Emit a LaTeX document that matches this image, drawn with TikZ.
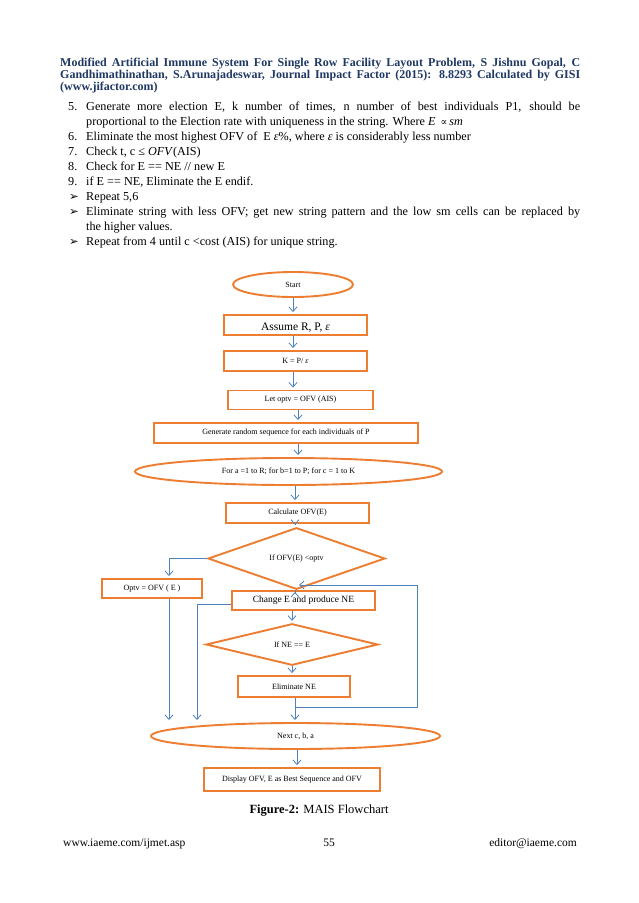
\documentclass[tikz,border=0pt]{standalone}
\usepackage{fontspec}
\setmainfont{Liberation Serif}
\newfontfamily\djs{DejaVu Sans}
\newfontfamily\djserif{DejaVu Serif}
\usetikzlibrary{shapes.geometric,arrows.meta}
\definecolor{boxor}{RGB}{237,125,49}
\definecolor{lnblue}{RGB}{79,129,189}
\definecolor{hdblue}{RGB}{31,56,100}
\newcommand{\fsz}[1]{\fontsize{#1}{#1}\selectfont}
\begin{document}
\begin{tikzpicture}[x=1pt,y=-1pt,
 proc/.style={draw=boxor, line width=1.9pt, rectangle, inner sep=0pt, font=\fsz{8}},
 term/.style={draw=boxor, line width=1.9pt, ellipse, inner sep=0pt, font=\fsz{8}},
 dec/.style={draw=boxor, line width=1.9pt, diamond, inner sep=0pt, font=\fsz{8}},
 conn/.style={draw=lnblue, line width=0.8pt, -{Straight Barb[length=4.5pt,width=8pt]}},
 into/.style={conn, shorten >=2pt},
 hd/.style={anchor=base west, inner sep=0pt, font=\fsz{12}\bfseries, text=hdblue},
 bd/.style={anchor=base west, inner sep=0pt, font=\fsz{12.2}},
 bul/.style={anchor=base west, inner sep=0pt, font=\djs\fsz{11.5}},
]
\path[fill=white, use as bounding box] (0,0) rectangle (638,903);

% header
\node[hd] (h1) at (60,66) {\makebox[520pt][s]{Modified Artificial Immune System For Single Row Facility Layout Problem, S Jishnu Gopal, C}};
\node[hd] (h2) at (60,78) {\makebox[520pt][s]{Gandhimathinathan, S.Arunajadeswar, Journal Impact Factor (2015): 8.8293 Calculated by GISI}};
\node[hd] (h3) at (60,90) {(www.jifactor.com)};

% list
\node[bd] (n5) at (68,110) {5.};
\node[bd] (t5a) at (86,110) {\makebox[494pt][s]{Generate more election E, k number of times, n number of best individuals P1, should be}};
\node[bd] (t5b) at (86,125) {proportional to the Election rate with uniqueness in the string. Where \textit{E} \,{\djserif\fsz{10}∝}\,\textit{sm}};
\node[bd] (n6) at (68,140) {6.};
\node[bd] (t6) at (86,140) {Eliminate the most highest OFV of \ E \textit{ε}\%, where \textit{ε} is considerably less number};
\node[bd] (n7) at (68,155) {7.};
\node[bd] (t7) at (86,155) {Check t, c ≤ \textit{OFV}(AIS)};
\node[bd] (n8) at (68,170) {8.};
\node[bd] (t8) at (86,170) {Check for E == NE // new E};
\node[bd] (n9) at (68,185) {9.};
\node[bd] (t9) at (86,185) {if E == NE, Eliminate the E endif.};
\node[bul] (b1) at (69,200) {➢};
\node[bd] (r1) at (86,200) {Repeat 5,6};
\node[bul] (b2) at (69,215) {➢};
\node[bd] (r2a) at (86,215) {\makebox[494pt][s]{Eliminate string with less OFV; get new string pattern and the low sm cells can be replaced by}};
\node[bd] (r2b) at (86,230) {the higher values.};
\node[bul] (b3) at (69,245) {➢};
\node[bd] (r3) at (86,245) {Repeat from 4 until c <cost (AIS) for unique string.};

% flowchart nodes
\node[term, minimum width=120pt, minimum height=25pt] (start) at (293,284.5) {Start};
\node[proc, minimum width=143pt, minimum height=20pt] (assume) at (295.5,325) {};
\begin{scope}
\clip (assume.south west) rectangle (assume.north east);
\node[inner sep=0pt, font=\fsz{11.5}] (assumetxt) at ([yshift=-3pt]assume.center) {Assume R, P, \textit{ε}};
\end{scope}
\node[proc, minimum width=143pt, minimum height=20pt] (kk) at (295.5,361) {K = P/ \textit{ε}};
\node[proc, minimum width=145pt, minimum height=19pt] (let) at (300.5,400) {Let optv = OFV (AIS)};
\node[proc, minimum width=264pt, minimum height=20pt] (gen) at (286,433) {Generate random sequence for each individuals of P};
\node[term, minimum width=307pt, minimum height=27pt] (for) at (288.5,471.5) {For a =1 to R; for b=1 to P; for c = 1 to K};
\node[proc, minimum width=143pt, minimum height=20pt] (calc) at (297.5,513) {Calculate OFV(E)};
\node[dec, minimum width=177pt, minimum height=37pt] (d1) at (296.5,558.5) {If OFV(E) <optv};
\node[proc, minimum width=100pt, minimum height=19pt] (optv) at (152,588.5) {Optv = OFV ( E )};
\node[proc, minimum width=143pt, minimum height=19pt, font=\fsz{9.5}] (chg) at (303.5,600.5) {Change E and produce NE};
\node[dec, minimum width=172pt, minimum height=37pt] (d2) at (292,644.5) {If NE == E};
\node[proc, minimum width=112pt, minimum height=21pt] (elim) at (294,686.5) {Eliminate NE};
\node[term, minimum width=289pt, minimum height=26pt] (nx) at (295.5,736) {Next c, b, a};
\node[proc, minimum width=176pt, minimum height=23pt] (disp) at (292,779.5) {Display OFV, E as Best Sequence and OFV};

% free ends
\coordinate (e1) at (169,720);
\coordinate (e2) at (197,720);
\coordinate (e3) at (295,720);
\coordinate (lp1) at (295,707);
\coordinate (lpe) at (299,585);

% connectors
\draw[into] (start.south) -- (start.south |- assume.north);
\draw[into] (start.south |- assume.south) -- (start.south |- kk.north);
\draw[into] (start.south |- kk.south) -- (start.south |- let.north);
\draw[into] ([xshift=-2.5pt]let.south) -- ([xshift=-2.5pt]let.south |- gen.north);
\draw[into] ([xshift=-2.5pt]let.south |- gen.south) -- ([xshift=-2.5pt]let.south |- for.north);
\draw[into] ([xshift=-2.5pt]calc.north |- for.south) -- ([xshift=-2.5pt]calc.north);
\draw[into] ([xshift=-2.5pt]calc.south) -- ([xshift=-2.5pt]calc.south |- d1.north);
\draw[into] (d1.west) -| ([xshift=17pt]optv.north);
\draw[into] ([xshift=-1.5pt]d1.south) -- ([xshift=-1.5pt]d1.south |- chg.north);
\draw[conn] ([xshift=17pt]optv.south) -- (e1);
\draw[conn] ([yshift=-3.5pt]chg.west) -| (e2);
\draw[into] (d2.north |- chg.south) -- (d2.north);
\draw[into] (d2.south) -- (d2.south |- elim.north);
\draw[conn] (elim.south -| e3) -- (e3);
\draw[conn] (lp1) -- ++(122,0) |- (lpe);
\draw[into] ([xshift=1.5pt]nx.south) -- ([xshift=1.5pt]nx.south |- disp.north);

% caption and footer
\node[anchor=center, inner sep=0pt, font=\fsz{12.5}] (cap) at (319,811) {\textbf{Figure-2:} MAIS Flowchart};
\node[anchor=base west, inner sep=0pt, font=\fsz{11.5}] (f1) at (63,846.5) {www.iaeme.com/ijmet.asp};
\node[anchor=base, inner sep=0pt, font=\fsz{11.5}] (f2) at (329,846.5) {55};
\node[anchor=base east, inner sep=0pt, font=\fsz{11.5}] (f3) at (577,846.5) {editor@iaeme.com};
\end{tikzpicture}
\end{document}
